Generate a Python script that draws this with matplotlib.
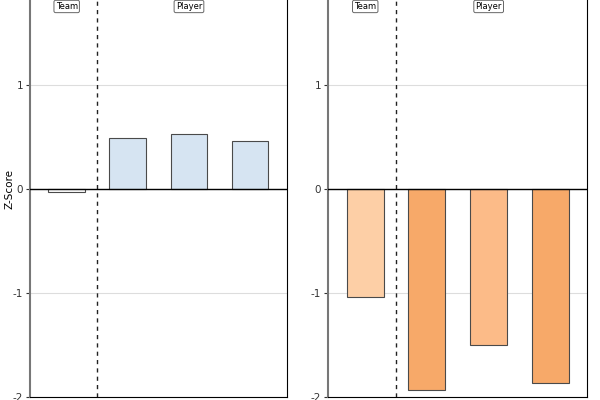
import matplotlib
matplotlib.use("Agg")
import matplotlib.pyplot as plt
import numpy as np

stats = ["Pts/Min", "Reb/Min", "Ast/Min", "3PM/Min"]
left_vals = [-0.03, 0.49, 0.53, 0.46]
right_vals = [-1.04, -1.93, -1.50, -1.87]
left_colors = ["#ffffff", "#d6e4f2", "#d6e4f2", "#d6e4f2"]
right_colors = ["#fdcfa6", "#f7a969", "#fcbb88", "#f7a969"]

fig = plt.figure(figsize=(6, 4), dpi=100)
ax1 = fig.add_axes([0.05, 0.0075, 0.428, 1.04])
ax2 = fig.add_axes([0.547, 0.0075, 0.432, 1.04])

x = np.arange(len(stats))
for ax, vals, cols in [(ax1, left_vals, left_colors), (ax2, right_vals, right_colors)]:
    ax.bar(x, vals, width=0.6, color=cols, edgecolor="#4a4a4a", linewidth=0.8, zorder=3)
    ax.axhline(0, color="black", linewidth=1, zorder=4)
    ax.axvline(0.5, color="#222222", linestyle=(0, (3, 3)), linewidth=1, zorder=2)
    ax.set_xlim(-0.6, 3.6)
    ax.set_ylim(-2, 2)
    ax.set_yticks([-2, -1, 0, 1])
    ax.set_yticklabels(["-2", "-1", "0", "1"])
    ax.yaxis.grid(True, color="#dddddd", linewidth=0.8, zorder=0)
    ax.set_xticks(x)
    ax.set_xticklabels(stats, fontsize=7, rotation=0)
    ax.tick_params(axis="x", labelsize=7, colors="#333333", length=0, pad=2)
    ax.tick_params(axis="y", labelsize=7.5, colors="#333333", length=3, pad=2)
    ax.spines["left"].set_color("#777777")
    ax.spines["left"].set_linewidth(1.5)
    for s in ["right", "bottom", "top"]:
        ax.spines[s].set_color("black")
    box = dict(boxstyle="round,pad=0.2", facecolor="white", edgecolor="#666666", linewidth=0.7)
    ax.text(0, 1.755, "Team", ha="center", va="center", fontsize=6, bbox=box, zorder=5)
    ax.text(2, 1.755, "Player", ha="center", va="center", fontsize=6, bbox=box, zorder=5)

ax1.set_ylabel("Z-Score", fontsize=7.5)
ax1.yaxis.set_label_coords(-0.062, 0.5)

fig.savefig("out.png", dpi=100)
